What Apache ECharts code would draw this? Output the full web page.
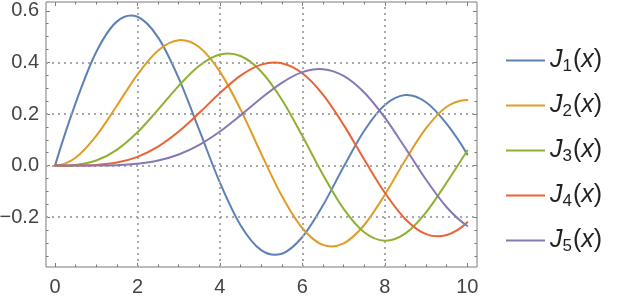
<!DOCTYPE html>
<html><head><meta charset="utf-8">
<script src="https://cdn.jsdelivr.net/npm/echarts@6/dist/echarts.min.js"></script>
<style>html,body{margin:0;padding:0;background:#fff}#c{width:620px;height:298px}</style>
</head><body><div id="c"></div>
<script>
const xs = [0,0.5,1,1.5,2,2.5,3,3.5,4,4.5,5,5.5,6,6.5,7,7.5,8,8.5,9,9.5,10];
const j1 = [0,0.2422685,0.4400506,0.5579365,0.5767248,0.4970941,0.3390590,0.1373775,-0.0660433,-0.2310604,-0.3275791,-0.3414382,-0.2766839,-0.1538413,-0.0046828,0.1352484,0.2346363,0.2731300,0.2453118,0.1612644,0.0434727];
const j2 = [0,0.0306040,0.1149035,0.2320877,0.3528340,0.4460591,0.4860913,0.4586291,0.3641281,0.2178490,0.0465652,-0.1172753,-0.2428733,-0.3074304,-0.3014172,-0.2302734,-0.1129917,0.0223267,0.1448473,0.2278791,0.2546303];
const j3 = [0,0.0025637,0.0195634,0.0609640,0.1289432,0.2166005,0.3090627,0.3867701,0.4301714,0.4247040,0.3648313,0.2561471,0.1147684,-0.0353466,-0.1675556,-0.2580609,-0.2911322,-0.2626233,-0.1809352,-0.0653153,0.0583794];
const j4 = [0,0.0001607,0.0024766,0.0117681,0.0339957,0.0737821,0.1320341,0.2044054,0.2811290,0.3484230,0.3912324,0.3967085,0.3576417,0.2748028,0.1577981,0.0238247,-0.1053575,-0.2077078,-0.2654708,-0.2691309,-0.2196027];
const j5 = [0,0.0000081,0.0002498,0.0017994,0.0070396,0.0195016,0.0430282,0.0804422,0.1320866,0.1947147,0.2611405,0.3208834,0.3620872,0.3735654,0.3478963,0.2834739,0.1857747,0.0671336,-0.0550388,-0.1613212,-0.2340616];
const seriesNames = ['J1','J2','J3','J4','J5'];
const subs = ['1','2','3','4','5'];
const colors = ['#5E81B5','#E19C24','#8FB032','#EB6235','#8778B3'];
const xMajor = [0,2,4,6,8,10];
const xMinor = [0.5,1,1.5,2.5,3,3.5,4.5,5,5.5,6.5,7,7.5,8.5,9,9.5];
const yMajor = [-0.2,0,0.2,0.4,0.6];
const yMinor = [-0.35,-0.3,-0.25,-0.15,-0.1,-0.05,0.05,0.1,0.15,0.25,0.3,0.35,0.45,0.5,0.55];
const xGrid = [2,4,6,8];
const yGrid = [-0.2,0,0.2,0.4];

const XMIN=-0.218, XMAX=10.235, YMIN=-0.393, YMAX=0.634;
const frame='#7a7a7a', txt='#444', FONT='"Liberation Sans", Arial, sans-serif';
function xAx(pos, vals, len, labels){
  return {type:'value', position:pos, min:XMIN, max:XMAX,
    axisLine:{show:false, onZero:false}, splitLine:{show:false},
    axisTick:{show:true, inside:true, length:len, customValues:vals, lineStyle:{color:frame,width:1}},
    axisLabel:{show:labels, customValues:vals, margin:10, color:txt, fontSize:20, fontFamily:FONT, formatter:v=>String(v)}};
}
function yAx(pos, vals, len, labels){
  return {type:'value', position:pos, min:YMIN, max:YMAX,
    axisLine:{show:false, onZero:false}, splitLine:{show:false},
    axisTick:{show:true, inside:true, length:len, customValues:vals, lineStyle:{color:frame,width:1}},
    axisLabel:{show:labels, customValues:vals, margin:7, color:txt, fontSize:20, fontFamily:FONT,
      formatter:v=>(v<0?'\u2212':'')+Math.abs(v).toFixed(1)}};
}
function curvePath(api, ys){
  const n = xs.length;
  const m = ys.map((y,i)=>{
    if(i===0) return (-3*ys[0]+4*ys[1]-ys[2])/(xs[2]-xs[0]);
    if(i===n-1) return (3*ys[n-1]-4*ys[n-2]+ys[n-3])/(xs[n-1]-xs[n-3]);
    return (ys[i+1]-ys[i-1])/(xs[i+1]-xs[i-1]);
  });
  let p0 = api.coord([xs[0],ys[0]]);
  let d = 'M'+p0[0]+' '+p0[1];
  for(let i=0;i<n-1;i++){
    const h=(xs[i+1]-xs[i])/3;
    const c1=api.coord([xs[i]+h, ys[i]+m[i]*h]);
    const c2=api.coord([xs[i+1]-h, ys[i+1]-m[i+1]*h]);
    const p=api.coord([xs[i+1],ys[i+1]]);
    d+=' C'+c1[0]+' '+c1[1]+' '+c2[0]+' '+c2[1]+' '+p[0]+' '+p[1];
  }
  return d;
}
const series = [{
  type:'line', data:[], z:1, silent:true, xAxisIndex:0, yAxisIndex:0,
  markLine:{silent:true, symbol:['none','none'], label:{show:false}, animation:false,
    lineStyle:{color:'#a9a9a9', width:2, type:[2,4]},
    data: xGrid.map(v=>({xAxis:v})).concat(yGrid.map(v=>({yAxis:v})))}
}];
[j1,j2,j3,j4,j5].forEach((arr,i)=>{
  series.push({name:seriesNames[i], type:'custom', z:2+i, xAxisIndex:0, yAxisIndex:0,
    itemStyle:{color:colors[i]}, silent:true,
    data: xs.map((x,k)=>[x,arr[k]]),
    renderItem:(params,api)=>{
      if(params.dataIndex!==0) return null;
      return {type:'path', shape:{pathData:curvePath(api,arr)},
        style:{stroke:colors[i], lineWidth:2, fill:null, lineJoin:'round', lineCap:'round'}};
    }});
});
const chart = echarts.init(document.getElementById('c'), null, {renderer:'canvas'});
chart.setOption({
  animation:false, backgroundColor:'#fff',
  grid:{left:46, top:2, right:143, bottom:31, show:true, borderColor:frame, borderWidth:1, backgroundColor:'transparent',
    containLabel:false, outerBoundsMode:'none'},
  xAxis:[xAx('bottom',xMajor,4,true), xAx('bottom',xMinor,2.5,false), xAx('top',xMajor,4,false), xAx('top',xMinor,2.5,false)],
  yAxis:[yAx('left',yMajor,4,true), yAx('left',yMinor,2.5,false), yAx('right',yMajor,4,false), yAx('right',yMinor,2.5,false)],
  legend:{orient:'vertical', left:501, top:41, itemWidth:39, itemHeight:2, itemGap:16, icon:'rect', itemTextGap:13,
    data:seriesNames, selectedMode:false,
    formatter:name=>{const s=subs[seriesNames.indexOf(name)]; return '{i|J}{s|'+s+'}{n|(}{i|x}{n|)}';},
    textStyle:{color:'#222', fontFamily:FONT, fontSize:25, lineHeight:28,
      rich:{i:{fontStyle:'italic', fontSize:25, fontFamily:FONT, color:'#222', lineHeight:28},
            n:{fontSize:25, fontFamily:FONT, color:'#222', lineHeight:28},
            s:{fontSize:17, fontFamily:FONT, color:'#222', lineHeight:28, padding:[12,1,0,0]}}}},
  series:series
});
</script></body></html>
